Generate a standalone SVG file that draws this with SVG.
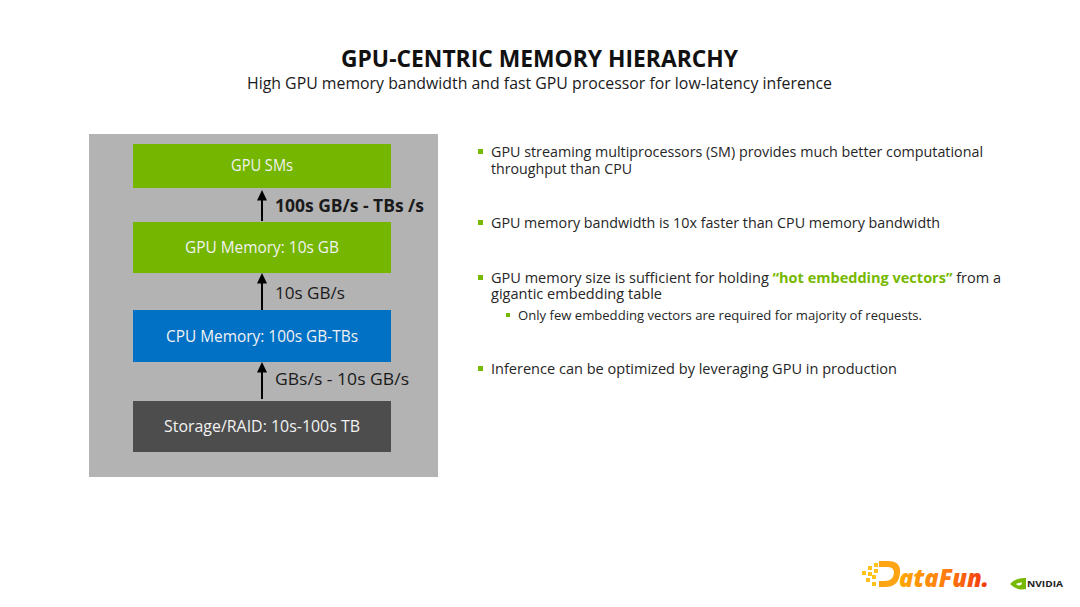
<svg xmlns="http://www.w3.org/2000/svg" width="1080" height="607" viewBox="0 0 1080 607">
<style>
text{font-family:"Open Sans","Noto Sans","Liberation Sans",sans-serif;}
.b{font-size:14.3px;fill:#262626}
.n{font-size:15.5px;fill:#f2f2f2;text-anchor:middle}
.l{font-size:17px;fill:#1a1a1a}
.s{fill:#76b900}
.c{stroke:#000;stroke-width:2;fill:none}
</style>
<defs>
<linearGradient id="df" x1="0" x2="1" y1="0" y2="0"><stop offset="0" stop-color="#ffa800"/><stop offset=".55" stop-color="#ff7a10"/><stop offset="1" stop-color="#f2330d"/></linearGradient>
</defs>
<rect width="1080" height="607" fill="#fff"/>
<text x="341" y="67" font-size="23.2" font-weight="700" fill="#111" textLength="397" lengthAdjust="spacingAndGlyphs">GPU-CENTRIC MEMORY HIERARCHY</text>
<text x="247" y="88.500" font-size="15.8" fill="#1a1a1a" textLength="585" lengthAdjust="spacingAndGlyphs">High GPU memory bandwidth and fast GPU processor for low-latency inference</text>
<rect x="89" y="134" width="349" height="343" fill="#b3b3b3"/>
<g id="gpu-sms"><rect x="133" y="144" width="258" height="44" fill="#74b600"/><text class="n" x="262" y="171" textLength="62" lengthAdjust="spacingAndGlyphs">GPU SMs</text></g>
<g id="gpu-mem"><rect x="133" y="222" width="258" height="51" fill="#74b600"/><text class="n" x="262" y="253" textLength="154" lengthAdjust="spacingAndGlyphs">GPU Memory: 10s GB</text></g>
<g id="cpu-mem"><rect x="133" y="310" width="258" height="52" fill="#0071c5"/><text class="n" x="262" y="342" textLength="192" lengthAdjust="spacingAndGlyphs">CPU Memory: 100s GB-TBs</text></g>
<g id="storage"><rect x="133" y="401" width="258" height="51" fill="#4d4d4d"/><text class="n" x="262" y="432" textLength="196" lengthAdjust="spacingAndGlyphs">Storage/RAID: 10s-100s TB</text></g>
<g id="connectors">
<path d="M262 221V199" class="c"/><path d="M257 200.500L262 190L267 200.500Z"/>
<path d="M262 310V282" class="c"/><path d="M257 283.500L262 273L267 283.500Z"/>
<path d="M262 399V371" class="c"/><path d="M257 372.500L262 362L267 372.500Z"/>
</g>
<text class="l" x="275" y="212" font-weight="700" textLength="149" lengthAdjust="spacingAndGlyphs">100s GB/s - TBs /s</text>
<text class="l" x="275" y="299" textLength="70" lengthAdjust="spacingAndGlyphs">10s GB/s</text>
<text class="l" x="275" y="385" textLength="134" lengthAdjust="spacingAndGlyphs">GBs/s - 10s GB/s</text>
<rect class="s" x="478" y="149" width="5" height="5"/>
<text class="b" x="491" y="157" textLength="492" lengthAdjust="spacingAndGlyphs">GPU streaming multiprocessors (SM) provides much better computational</text>
<text class="b" x="491" y="174" textLength="141" lengthAdjust="spacingAndGlyphs">throughput than CPU</text>
<rect class="s" x="478" y="220" width="5" height="5"/>
<text class="b" x="491" y="228" textLength="449" lengthAdjust="spacingAndGlyphs">GPU memory bandwidth is 10x faster than CPU memory bandwidth</text>
<rect class="s" x="478" y="275" width="5" height="5"/>
<text class="b" x="491" y="283" textLength="510" lengthAdjust="spacingAndGlyphs">GPU memory size is sufficient for holding <tspan font-weight="700" fill="#76b900">“hot embedding vectors”</tspan> from a</text>
<text class="b" x="491" y="299" textLength="171" lengthAdjust="spacingAndGlyphs">gigantic embedding table</text>
<rect class="s" x="506" y="313" width="4" height="4"/>
<text x="518" y="320" font-size="12.6" fill="#262626" textLength="404" lengthAdjust="spacingAndGlyphs">Only few embedding vectors are required for majority of requests.</text>
<rect class="s" x="478" y="366" width="5" height="5"/>
<text class="b" x="491" y="374" textLength="406" lengthAdjust="spacingAndGlyphs">Inference can be optimized by leveraging GPU in production</text>
<g id="datafun-logo">
<g fill="#ffc21a"><rect x="862" y="571" width="4" height="4"/><rect x="868" y="566" width="4" height="4"/><rect x="874" y="563" width="4" height="4"/><rect x="868" y="572" width="4" height="4"/><rect x="874" y="569" width="4" height="4"/><rect x="866" y="578" width="4" height="4"/><rect x="872" y="575" width="4" height="4"/><rect x="872" y="582" width="4" height="4"/></g>
<path d="M879 561H888Q901 561 900 573Q899 587 885 587H879V581H885Q893 581 894 573Q894 567 888 567H879Z" fill="#ffa414"/>
<text x="899" y="587" font-size="24" font-weight="800" font-style="italic" fill="url(#df)" textLength="90" lengthAdjust="spacingAndGlyphs">ataFun.</text>
</g>
<g id="nvidia-logo">
<path d="M1010 584Q1017 577 1026 578V589Q1017 591 1010 584Z" fill="#76b900"/>
<path d="M1016 584Q1019 582 1022 582.500Q1022 586 1018 585.500Z" fill="#fff"/>
<text x="1027" y="587" font-size="9.500" font-weight="700" fill="#222" textLength="36" lengthAdjust="spacingAndGlyphs">NVIDIA</text>
</g>
</svg>
